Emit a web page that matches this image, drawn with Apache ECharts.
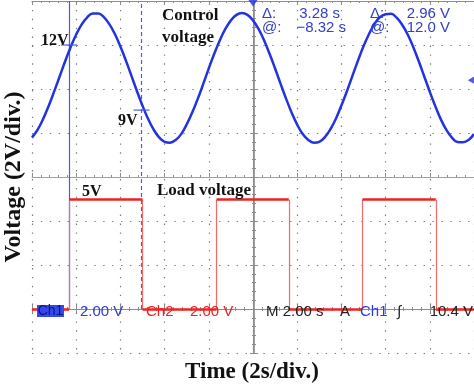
<!DOCTYPE html>
<html>
<head>
<meta charset="utf-8">
<script src="https://cdn.jsdelivr.net/npm/echarts@6/dist/echarts.min.js"></script>
<style>
html,body{margin:0;padding:0;background:#fff;}
#c{width:474px;height:387px;}
</style>
</head>
<body>
<div id="c"></div>
<script>
// ---- data ----
const timeS = [-10, -9.75, -9.5, -9.25, -9, -8.75, -8.5, -8.25, -8, -7.75, -7.5, -7.25, -7, -6.75, -6.5, -6.25,
  -6, -5.75, -5.5, -5.25, -5, -4.75, -4.5, -4.25, -4, -3.75, -3.5, -3.25, -3, -2.75, -2.5, -2.25,
  -2, -1.75, -1.5, -1.25, -1, -0.75, -0.5, -0.25, 0, 0.25, 0.5, 0.75, 1, 1.25, 1.5, 1.75,
  2, 2.25, 2.5, 2.75, 3, 3.25, 3.5, 3.75, 4, 4.25, 4.5, 4.75, 5, 5.25, 5.5, 5.75,
  6, 6.25, 6.5, 6.75, 7, 7.25, 7.5, 7.75, 8, 8.25, 8.5, 8.75, 9, 9.25, 9.5, 9.75, 10];
const controlV = [7.79, 8.14, 8.63, 9.22, 9.88, 10.57, 11.26, 11.91, 12.48, 12.94, 13.26, 13.43, 13.43, 13.27, 12.95, 12.50,
  11.93, 11.29, 10.60, 9.90, 9.24, 8.65, 8.16, 7.80, 7.60, 7.56, 7.68, 7.95, 8.39, 8.93, 9.55, 10.23,
  10.94, 11.61, 12.22, 12.73, 13.12, 13.37, 13.45, 13.37, 13.12, 12.73, 12.22, 11.60, 10.93, 10.23, 9.55, 8.92,
  8.38, 7.95, 7.68, 7.56, 7.60, 7.81, 8.17, 8.65, 9.25, 9.90, 10.60, 11.29, 11.94, 12.50, 12.96, 13.27,
  13.40, 13.42, 13.24, 12.92, 12.48, 11.91, 11.26, 10.57, 9.87, 9.22, 8.62, 8.14, 7.79, 7.59, 7.58, 7.68, 7.95];
const loadEdgeT = [-8.32, -5.00, -1.65, 1.62, 4.95, 8.27];   // alternating rising / falling
const loadHighV = 4.97;
const loadLowV = -0.03;
const cursorT = [-8.32, -5.04];
const cursorV = [12.0, 9.04];
const triggerT = 0;
const triggerV = 10.4;
const xTicks = [-10, 10, 2];   // min, max, interval (2 s/div)
const yTicks = [-2, 14, 2];    // min, max, interval (2 V/div)

// ---- build marks ----
const ctrlData = timeS.map((t, i) => [t, controlV[i]]);
const levelSegs = [], edgeSegs = [];
let prevT = xTicks[0], level = loadLowV;
loadEdgeT.forEach((t, i) => {
  levelSegs.push({coords: [[prevT, level], [t, level]]});
  const next = (i % 2 === 0) ? loadHighV : loadLowV;
  edgeSegs.push({coords: [[t, level], [t, next]]});
  level = next; prevT = t;
});
levelSegs.push({coords: [[prevT, level], [xTicks[1], level]]});
const cursorSegs = cursorT.map((t, i) => ({coords: [[t, 0], [t, yTicks[1]]],
  lineStyle: {type: i === 0 ? 'solid' : [4, 3]}}));

const BLUE = '#2433e0', RED = '#ee2222', TXTBLUE = '#3140c8', CUR = '#4a5ae6';
const dot = {show: true, lineStyle: {color: '#7a7a7a', width: 1.2, type: [1.4, 7.5]}};
const borderLine = {show: true, lineStyle: {color: '#8c8c8c', width: 1}};
function ax(extra, rng, grid, withSplit) {
  return Object.assign({
    type: 'value', gridIndex: grid, min: rng[0], max: rng[1], interval: rng[2],
    axisLine: borderLine,
    axisTick: {show: true, inside: true, length: 4, lineStyle: {color: '#8c8c8c'}},
    minorTick: {show: true, splitNumber: 5, length: 2, lineStyle: {color: '#8c8c8c'}},
    axisLabel: {show: false},
    splitLine: withSplit ? dot : {show: false},
    minorSplitLine: {show: false}
  }, extra);
}
const hid = (rng, grid) => ({type: 'value', gridIndex: grid, min: rng[0], max: rng[1], show: false});

const chart = echarts.init(document.getElementById('c'), null, {renderer: 'canvas'});
const font = (s, w, fam) => `${w} ${s}px ${fam}`;
const serif = '"Liberation Serif", "Times New Roman", serif';
const sans = '"Liberation Sans", Arial, sans-serif';
function txt(x, y, text, size, color, fam, weight, align, rot) {
  return {type: 'text', x: x, y: y, z: 50, rotation: rot || 0,
    style: {text: text, font: font(size, weight || 'normal', fam),
    fill: color, align: align || 'left', verticalAlign: 'middle'}};
}
const dT = (cursorT[1] - cursorT[0]).toFixed(2);
const dV = (cursorV[0] - cursorV[1]).toFixed(2);
const fmtT = v => (v < 0 ? '\u2212' : '') + Math.abs(v).toFixed(2);

chart.setOption({
  animation: false,
  backgroundColor: '#ffffff',
  grid: [
    {left: 32, top: 1, width: 444, height: 352},
    {left: 32, top: 1, width: 444, height: 176},
    {left: 32, top: 177, width: 444, height: 176},
    {left: 32, top: 1, width: 222, height: 352},
    {left: 254, top: 1, width: 222, height: 352}
  ],
  xAxis: [
    ax({position: 'bottom'}, xTicks, 0, true),
    ax({position: 'top'}, xTicks, 0, false),
    ax({position: 'bottom', axisLine: {show: true, lineStyle: {color: '#a0a0a0', width: 1}}}, xTicks, 1, false),
    ax({position: 'top', axisLine: {show: false}}, xTicks, 2, false),
    hid([xTicks[0], 0], 3),
    hid([0, xTicks[1]], 4)
  ],
  yAxis: [
    ax({position: 'left'}, yTicks, 0, true),
    hid([6, 14], 1),
    hid([-2, 6], 2),
    ax({position: 'right', axisLine: {show: true, lineStyle: {color: '#a0a0a0', width: 1}}}, yTicks, 3, false),
    ax({position: 'left', axisLine: {show: false}}, yTicks, 4, false)
  ],
  series: [
    {type: 'lines', coordinateSystem: 'cartesian2d', xAxisIndex: 0, yAxisIndex: 0, z: 3,
      data: cursorSegs, lineStyle: {color: CUR, width: 1.2, opacity: 1}},
    {type: 'lines', coordinateSystem: 'cartesian2d', xAxisIndex: 0, yAxisIndex: 0, z: 4,
      data: edgeSegs, lineStyle: {color: '#f26a6a', width: 1.2, opacity: 1}},
    {type: 'lines', coordinateSystem: 'cartesian2d', xAxisIndex: 0, yAxisIndex: 0, z: 5,
      data: levelSegs, lineStyle: {color: RED, width: 2.6, opacity: 1}},
    {type: 'line', xAxisIndex: 0, yAxisIndex: 0, z: 6, data: ctrlData, smooth: 0.4, showSymbol: false,
      lineStyle: {color: BLUE, width: 2.5}},
    {type: 'scatter', xAxisIndex: 0, yAxisIndex: 0, z: 7, symbol: 'rect', symbolSize: [16, 1.5],
      itemStyle: {color: CUR}, data: cursorT.map((t, i) => [t, cursorV[i]])},
    {type: 'scatter', xAxisIndex: 0, yAxisIndex: 0, z: 7, symbol: 'triangle', symbolRotate: 180,
      symbolSize: [10, 7], symbolOffset: [0, 2], itemStyle: {color: BLUE}, data: [[triggerT, yTicks[1]]]},
    {type: 'scatter', xAxisIndex: 0, yAxisIndex: 0, z: 7, symbol: 'arrow', symbolRotate: 90,
      symbolSize: [7, 8], itemStyle: {color: BLUE}, data: [[9.72, triggerV]]}
  ],
  graphic: [
    txt(14, 177, 'Voltage (2V/div.)', 24, '#111', serif, 'bold', 'center', Math.PI / 2),
    txt(252, 372, 'Time (2s/div.)', 23, '#111', serif, 'bold', 'center'),
    txt(41, 41, '12V', 16, '#111', serif, 'bold'),
    txt(118, 121, '9V', 16, '#111', serif, 'bold'),
    txt(162, 16, 'Control', 17, '#111', serif, 'bold'),
    txt(162, 38, 'voltage', 17, '#111', serif, 'bold'),
    txt(82, 192, '5V', 16, '#111', serif, 'bold'),
    txt(157, 191, 'Load voltage', 17, '#111', serif, 'bold'),
    txt(262, 14, '\u0394:', 15, TXTBLUE, sans),
    txt(340, 14, dT + ' s', 15, TXTBLUE, sans, 'normal', 'right'),
    txt(262, 28, '@:', 15, TXTBLUE, sans),
    txt(346, 28, fmtT(cursorT[0]) + ' s', 15, TXTBLUE, sans, 'normal', 'right'),
    txt(370, 14, '\u0394:', 15, TXTBLUE, sans),
    txt(450, 14, dV + ' V', 15, TXTBLUE, sans, 'normal', 'right'),
    txt(370, 28, '@:', 15, TXTBLUE, sans),
    txt(450, 28, cursorV[0].toFixed(1) + ' V', 15, TXTBLUE, sans, 'normal', 'right'),
    {type: 'rect', z: 49, shape: {x: 37, y: 305, width: 27, height: 12}, style: {fill: '#3348ee'}},
    txt(50.5, 311.5, 'Ch1', 14, '#12127a', sans, 'normal', 'center'),
    txt(80, 311.5, '2.00 V', 15, TXTBLUE, sans),
    txt(146, 311.5, 'Ch2', 15, RED, sans),
    txt(190, 311.5, '2.00 V', 15, RED, sans),
    txt(266, 311.5, 'M 2.00 s', 15, '#222', sans),
    txt(340, 311.5, 'A', 15, '#222', sans),
    txt(360, 311.5, 'Ch1', 15, '#2b3de0', sans),
    txt(397, 311.5, '\u222B', 15, '#222', sans),
    txt(473, 311.5, triggerV.toFixed(1) + ' V', 15, '#222', sans, 'normal', 'right')
  ]
});
</script>
</body>
</html>
